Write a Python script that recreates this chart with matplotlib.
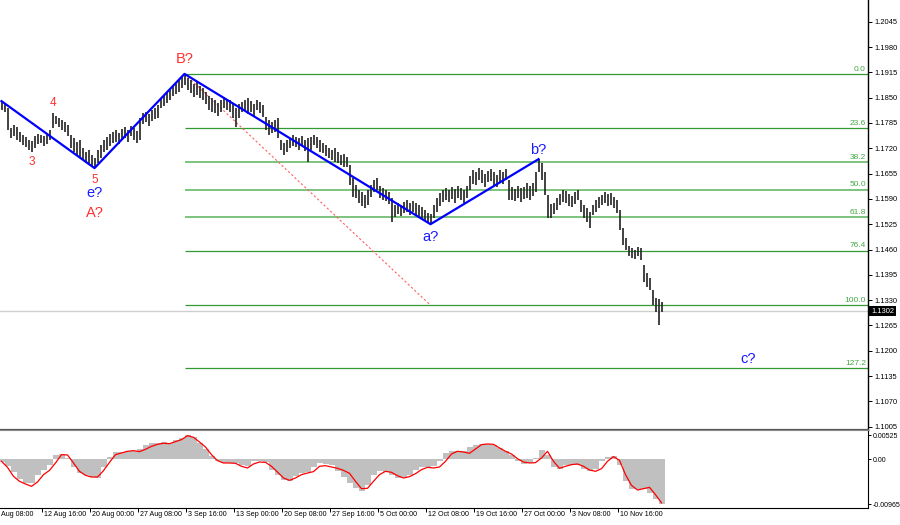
import matplotlib
matplotlib.use('Agg')
import matplotlib.pyplot as plt
import numpy as np

# 字体：MT4 风格的小号无衬线字体
plt.rcParams['font.family'] = ['Liberation Sans', 'DejaVu Sans']

# EURUSD H4（每根柱 = 2 根 H4 合并）的最高价 / 最低价
highs = [
    1.1841, 1.1834, 1.1823, 1.1772, 1.1780, 1.1775, 1.1762, 1.1754, 1.1749, 1.1741,
    1.1739, 1.1752, 1.1757, 1.1754, 1.1752, 1.1759, 1.1767, 1.1811, 1.1803, 1.1798,
    1.1793, 1.1787, 1.1780, 1.1754, 1.1746, 1.1736, 1.1741, 1.1721, 1.1710, 1.1716,
    1.1703, 1.1695, 1.1716, 1.1728, 1.1741, 1.1749, 1.1757, 1.1762, 1.1767, 1.1759,
    1.1769, 1.1775, 1.1767, 1.1777, 1.1772, 1.1764, 1.1798, 1.1811, 1.1813, 1.1808,
    1.1818, 1.1823, 1.1831, 1.1849, 1.1857, 1.1862, 1.1870, 1.1880, 1.1888, 1.1895,
    1.1906, 1.1911, 1.1900, 1.1895, 1.1885, 1.1890, 1.1880, 1.1875, 1.1865, 1.1854,
    1.1849, 1.1844, 1.1836, 1.1844, 1.1852, 1.1847, 1.1844, 1.1836, 1.1823, 1.1834,
    1.1839, 1.1844, 1.1849, 1.1841, 1.1834, 1.1844, 1.1839, 1.1831, 1.1800, 1.1793,
    1.1787, 1.1793, 1.1798, 1.1741, 1.1734, 1.1741, 1.1746, 1.1754, 1.1749, 1.1746,
    1.1752, 1.1741, 1.1746, 1.1749, 1.1754, 1.1749, 1.1741, 1.1734, 1.1728, 1.1721,
    1.1716, 1.1721, 1.1710, 1.1703, 1.1705, 1.1698, 1.1677, 1.1644, 1.1626, 1.1613,
    1.1608, 1.1600, 1.1613, 1.1626, 1.1639, 1.1644, 1.1623, 1.1618, 1.1613, 1.1608,
    1.1592, 1.1574, 1.1579, 1.1574, 1.1582, 1.1587, 1.1579, 1.1585, 1.1579, 1.1574,
    1.1569, 1.1561, 1.1554, 1.1551, 1.1574, 1.1592, 1.1605, 1.1613, 1.1618, 1.1613,
    1.1621, 1.1616, 1.1623, 1.1618, 1.1613, 1.1623, 1.1649, 1.1664, 1.1659, 1.1669,
    1.1664, 1.1654, 1.1662, 1.1667, 1.1659, 1.1651, 1.1664, 1.1659, 1.1667, 1.1639,
    1.1621, 1.1616, 1.1623, 1.1618, 1.1621, 1.1631, 1.1623, 1.1631, 1.1659, 1.1692,
    1.1682, 1.1659, 1.1600, 1.1577, 1.1579, 1.1592, 1.1603, 1.1613, 1.1610, 1.1603,
    1.1597, 1.1608, 1.1613, 1.1587, 1.1574, 1.1567, 1.1556, 1.1574, 1.1587, 1.1595,
    1.1600, 1.1608, 1.1603, 1.1605, 1.1595, 1.1587, 1.1561, 1.1515, 1.1490, 1.1469,
    1.1464, 1.1459, 1.1467, 1.1464, 1.1420, 1.1400, 1.1387, 1.1356, 1.1335, 1.1333,
    1.1325,
]
lows = [
    1.1818, 1.1813, 1.1767, 1.1746, 1.1752, 1.1741, 1.1736, 1.1728, 1.1723, 1.1716,
    1.1710, 1.1721, 1.1731, 1.1734, 1.1726, 1.1731, 1.1741, 1.1772, 1.1782, 1.1775,
    1.1767, 1.1762, 1.1752, 1.1721, 1.1710, 1.1703, 1.1695, 1.1690, 1.1682, 1.1677,
    1.1672, 1.1669, 1.1682, 1.1695, 1.1710, 1.1716, 1.1726, 1.1734, 1.1736, 1.1731,
    1.1741, 1.1746, 1.1736, 1.1752, 1.1741, 1.1734, 1.1741, 1.1782, 1.1787, 1.1777,
    1.1790, 1.1795, 1.1798, 1.1823, 1.1829, 1.1836, 1.1844, 1.1854, 1.1859, 1.1865,
    1.1875, 1.1883, 1.1870, 1.1862, 1.1852, 1.1857, 1.1849, 1.1844, 1.1834, 1.1818,
    1.1813, 1.1811, 1.1803, 1.1813, 1.1823, 1.1818, 1.1813, 1.1798, 1.1775, 1.1798,
    1.1813, 1.1818, 1.1808, 1.1813, 1.1803, 1.1818, 1.1811, 1.1800, 1.1767, 1.1754,
    1.1759, 1.1762, 1.1746, 1.1716, 1.1703, 1.1710, 1.1721, 1.1726, 1.1723, 1.1716,
    1.1726, 1.1713, 1.1685, 1.1716, 1.1728, 1.1721, 1.1710, 1.1708, 1.1700, 1.1695,
    1.1690, 1.1685, 1.1682, 1.1677, 1.1672, 1.1672, 1.1626, 1.1595, 1.1592, 1.1579,
    1.1572, 1.1567, 1.1574, 1.1595, 1.1608, 1.1613, 1.1592, 1.1587, 1.1585, 1.1577,
    1.1531, 1.1543, 1.1551, 1.1546, 1.1554, 1.1556, 1.1549, 1.1556, 1.1549, 1.1543,
    1.1538, 1.1536, 1.1531, 1.1525, 1.1541, 1.1556, 1.1572, 1.1582, 1.1587, 1.1582,
    1.1590, 1.1579, 1.1592, 1.1587, 1.1579, 1.1592, 1.1613, 1.1628, 1.1626, 1.1639,
    1.1631, 1.1621, 1.1633, 1.1636, 1.1626, 1.1621, 1.1633, 1.1628, 1.1639, 1.1587,
    1.1587, 1.1585, 1.1592, 1.1582, 1.1590, 1.1592, 1.1587, 1.1597, 1.1608, 1.1659,
    1.1639, 1.1600, 1.1541, 1.1541, 1.1551, 1.1561, 1.1574, 1.1582, 1.1579, 1.1572,
    1.1569, 1.1577, 1.1587, 1.1556, 1.1541, 1.1531, 1.1515, 1.1549, 1.1556, 1.1567,
    1.1574, 1.1579, 1.1572, 1.1574, 1.1567, 1.1554, 1.1510, 1.1472, 1.1459, 1.1443,
    1.1438, 1.1436, 1.1443, 1.1433, 1.1377, 1.1364, 1.1356, 1.1317, 1.1300, 1.1266,
    1.1300,
]
last_price = 1.1302

# MACD 柱（灰）和信号线（红），每 4 根 H4 取一个值
macd_hist = [
    -0.00058, -0.00151, -0.00274, -0.00425, -0.00511, -0.00511, -0.00346, -0.00238, -0.00115, 0.00101,
    0.00122, 0.00029, -0.00173, -0.00302, -0.00338, -0.00389, -0.00403, -0.00173, 0.00043, 0.00151,
    0.00166, 0.00187, 0.00187, 0.00230, 0.00317, 0.00346, 0.00353, 0.00374, 0.00360, 0.00410,
    0.00461, 0.00518, 0.00475, 0.00360, 0.00230, 0.00065, -0.00043, -0.00079, -0.00079, -0.00086,
    -0.00130, -0.00151, -0.00043, -0.00029, -0.00058, -0.00223, -0.00346, -0.00454, -0.00461, -0.00367,
    -0.00302, -0.00274, -0.00173, -0.00086, -0.00101, -0.00130, -0.00245, -0.00389, -0.00511, -0.00619,
    -0.00677, -0.00562, -0.00331, -0.00259, -0.00274, -0.00346, -0.00410, -0.00389, -0.00331, -0.00223,
    -0.00173, -0.00173, -0.00151, -0.00043, 0.00144, 0.00187, 0.00173, 0.00173, 0.00259, 0.00317,
    0.00331, 0.00331, 0.00302, 0.00245, 0.00173, 0.00101, -0.00029, -0.00094, -0.00086, 0.00029,
    0.00209, 0.00101, -0.00173, -0.00202, -0.00130, -0.00115, -0.00130, -0.00202, -0.00259, -0.00202,
    -0.00043, 0.00058, 0.00065, -0.00130, -0.00475, -0.00641, -0.00648, -0.00641, -0.00727, -0.00850,
    -0.00965,
]
macd_signal = [
    -0.00043, -0.00173, -0.00367, -0.00475, -0.00533, -0.00583, -0.00490, -0.00331, -0.00238, -0.00079,
    0.00101, 0.00094, -0.00079, -0.00259, -0.00346, -0.00382, -0.00382, -0.00245, -0.00065, 0.00101,
    0.00137, 0.00173, 0.00187, 0.00166, 0.00216, 0.00281, 0.00324, 0.00346, 0.00338, 0.00382,
    0.00425, 0.00511, 0.00475, 0.00374, 0.00266, 0.00101, -0.00029, -0.00079, -0.00079, -0.00086,
    -0.00151, -0.00187, -0.00101, -0.00058, -0.00065, -0.00151, -0.00274, -0.00403, -0.00454, -0.00403,
    -0.00331, -0.00295, -0.00266, -0.00151, -0.00137, -0.00166, -0.00194, -0.00238, -0.00302, -0.00475,
    -0.00634, -0.00626, -0.00475, -0.00331, -0.00259, -0.00281, -0.00353, -0.00403, -0.00374, -0.00310,
    -0.00223, -0.00173, -0.00187, -0.00166, -0.00043, 0.00115, 0.00173, 0.00158, 0.00130, 0.00223,
    0.00317, 0.00331, 0.00324, 0.00245, 0.00173, 0.00115, 0.00014, -0.00058, -0.00079, -0.00072,
    0.00029, 0.00173, -0.00043, -0.00194, -0.00151, -0.00115, -0.00101, -0.00151, -0.00230, -0.00259,
    -0.00202, -0.00043, 0.00058, -0.00022, -0.00331, -0.00562, -0.00662, -0.00634, -0.00605, -0.00763,
    -0.00940,
]

price_ticks = [1.2045, 1.1980, 1.1915, 1.1850, 1.1785, 1.1720, 1.1655, 1.1590, 1.1525,
               1.1460, 1.1395, 1.1330, 1.1265, 1.1200, 1.1135, 1.1070, 1.1005]
osc_ticks = [0.00525, 0.0, -0.00965]
osc_tick_labels = ['0.00525', '0.00', '-0.00965']
time_labels = ['12 Aug 16:00', '20 Aug 00:00', '27 Aug 08:00', '3 Sep 16:00', '13 Sep 00:00',
               '20 Sep 08:00', '27 Sep 16:00', '5 Oct 00:00', '12 Oct 08:00', '19 Oct 16:00',
               '27 Oct 00:00', '3 Nov 08:00', '10 Nov 16:00']
first_label = 'Aug 08:00'   # 左边被截断的第一个时间标签，只剩这部分可见

# 斐波那契回撤（B? 高点 -> 100% 水平）
fib_levels = [0.0, 23.6, 38.2, 50.0, 61.8, 76.4, 100.0, 127.2]
fib_100 = 1.1317

# 波浪拐点（柱序号）
P_START, P3, P4, P5, PB, PA, Pb = 0, 10, 17, 31, 61, 143, 179

RED = '#ff3030'
BLUE = '#1a1aff'
GREEN_DARK = '#339933'
GREEN_LIGHT = '#7cc47c'

bar_x = np.arange(len(highs)) * 2 + 1
osc_x = np.arange(len(macd_hist)) * 4 + 1
XMAX = 868 / 1.5

fig = plt.figure(figsize=(9, 5.25), dpi=100)
ax = fig.add_axes([0, 95 / 525, 868 / 900, 430 / 525])
osc = fig.add_axes([0, 17 / 525, 868 / 900, 78 / 525])

# ---------- 主图 ----------
ax.set_xlim(0, XMAX)
ax.set_ylim(1.09965, 1.21007)

ax.axhline(last_price, color='#cfcfcf', lw=1.0, zorder=1)

fib_0 = highs[PB]
for lvl in fib_levels:
    p = fib_0 - lvl / 100.0 * (fib_0 - fib_100)
    light = lvl in (38.2, 50.0, 61.8)
    ax.hlines(p, bar_x[PB], XMAX, color=GREEN_LIGHT if light else GREEN_DARK,
              lw=1.4 if light else 0.9, zorder=2)
    ax.annotate(f'{lvl:.1f}', xy=(1.0, p), xycoords=('axes fraction', 'data'),
                xytext=(-1.5, 0.8), textcoords='offset points', ha='right', va='bottom',
                fontsize=6.0, color='#44aa44')

ax.plot([bar_x[PB], bar_x[PA]], [fib_0, fib_100], color='#ff6060', lw=0.8,
        ls=(0, (2, 2)), zorder=2)

ax.vlines(bar_x, lows, highs, color='#2a2a2a', lw=1.25, zorder=3)

piv_x = bar_x[[P_START, P5, PB, PA, Pb]]
piv_y = [highs[P_START], lows[P5], highs[PB], lows[PA], highs[Pb]]
ax.plot(piv_x, piv_y, color='#0000ff', lw=1.6, zorder=4)

def wave_label(text, i, price, dy, color, size, va):
    ax.annotate(text, xy=(bar_x[i], price), xytext=(0, dy), textcoords='offset points',
                ha='center', va=va, color=color, fontsize=size, zorder=5)

wave_label('3', P3, lows[P3], -3, RED, 8.5, 'top')
wave_label('4', P4, highs[P4], 3, RED, 8.5, 'bottom')
wave_label('5', P5, lows[P5], -4.5, RED, 8.5, 'top')
wave_label('e?', P5, lows[P5], -13, BLUE, 10.5, 'top')
wave_label('A?', P5, lows[P5], -27, RED, 10.5, 'top')
wave_label('B?', PB, highs[PB], 5.5, RED, 10.5, 'bottom')
wave_label('a?', PA, lows[PA], -4, BLUE, 10.5, 'top')
wave_label('b?', Pb, highs[Pb], 1.5, BLUE, 10.5, 'bottom')
ax.text(748 / 1.5, 1.1178, 'c?', ha='center', va='center', color=BLUE, fontsize=10.5)

ax.yaxis.tick_right()
ax.set_yticks(price_ticks)
ax.set_yticklabels([f'{t:.4f}' for t in price_ticks])
ax.tick_params(axis='y', direction='out', length=3, width=0.7, pad=1.5,
               labelsize=5.4, colors='black')
ax.tick_params(axis='x', bottom=False, labelbottom=False)
for s in ('left', 'top'):
    ax.spines[s].set_visible(False)
ax.spines['right'].set_color('black')
ax.spines['right'].set_linewidth(1.0)
ax.spines['bottom'].set_color('#555555')
ax.spines['bottom'].set_linewidth(1.6)

ax.annotate(f'{last_price:.4f}', xy=(1.0, last_price), xycoords=('axes fraction', 'data'),
            xytext=(2.2, 0), textcoords='offset points', ha='left', va='center',
            fontsize=5.4, color='white',
            bbox=dict(boxstyle='square,pad=0.25', fc='black', ec='none'),
            annotation_clip=False)

# ---------- MACD 副图 ----------
osc.set_xlim(0, XMAX)
osc.set_ylim(-0.01051, 0.00633)
osc.bar(osc_x, macd_hist, width=4, color='#c0c0c0', lw=0, zorder=1)
osc.plot(osc_x, macd_signal, color='#ff0000', lw=0.9, zorder=2)

osc.yaxis.tick_right()
osc.set_yticks(osc_ticks)
osc.set_yticklabels(osc_tick_labels)
osc.tick_params(axis='y', direction='out', length=2.5, width=0.7, pad=1.0, labelsize=5.0)

tick_pos = 28 + 32 * np.arange(len(time_labels))
osc.set_xticks(tick_pos)
osc.tick_params(axis='x', direction='out', length=3, width=0.7, labelbottom=False)
for pos, lab in zip(tick_pos, time_labels):
    osc.annotate(lab, xy=(pos, 0), xycoords=('data', 'axes fraction'), xytext=(1.5, -2.5),
                 textcoords='offset points', ha='left', va='top', fontsize=5.1,
                 annotation_clip=False)
osc.annotate(first_label, xy=(0, 0), xycoords='axes fraction',
             xytext=(0.8, -2.5), textcoords='offset points', ha='left', va='top',
             fontsize=5.1, annotation_clip=False)

osc.spines['left'].set_visible(False)
osc.spines['top'].set_color('#888888')
osc.spines['top'].set_linewidth(0.8)
osc.spines['right'].set_color('black')
osc.spines['bottom'].set_color('black')

fig.savefig('out.png', dpi=100)
